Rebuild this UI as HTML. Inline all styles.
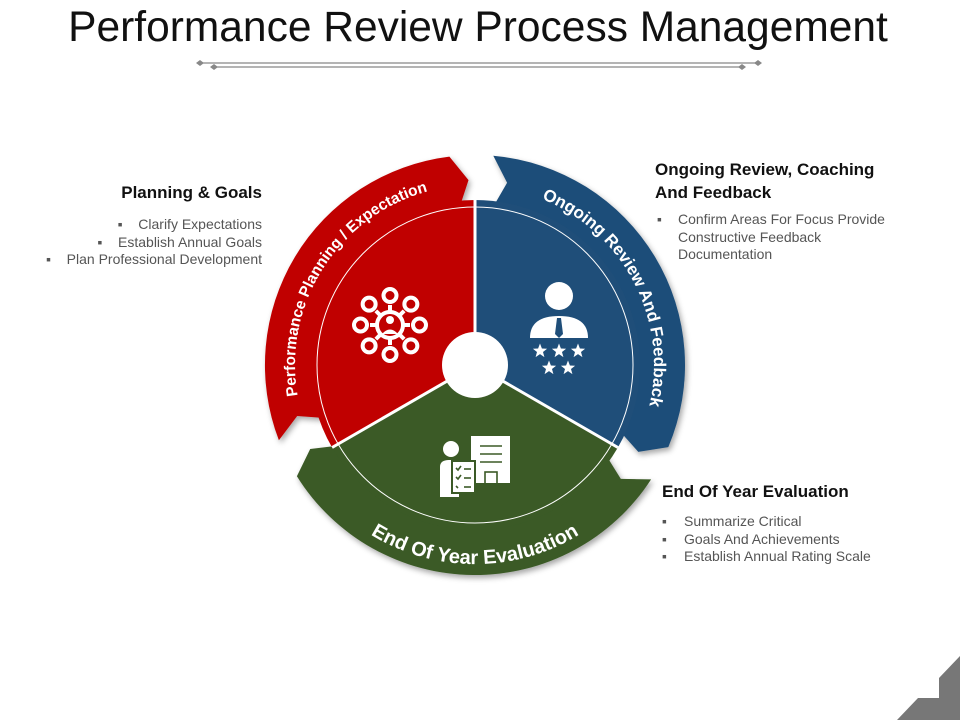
<!DOCTYPE html>
<html><head><meta charset="utf-8"><style>
body{margin:0;width:960px;height:720px;background:#fff;overflow:hidden;position:relative;font-family:"Liberation Sans",Arial,sans-serif}
.t{position:absolute;white-space:nowrap}
h1{position:absolute;margin:0;left:0;width:956px;text-align:center;top:4px;font-weight:normal;font-size:42.5px;color:#111}
.hd{font-weight:bold;font-size:17px;color:#111}
.b{font-size:14px;color:#555;line-height:17.5px}
</style></head><body>
<h1>Performance Review Process Management</h1>
<svg width="960" height="720" style="position:absolute;left:0;top:0">
<g stroke="#888" stroke-width="1.3" fill="#888">
<line x1="200" y1="63" x2="758" y2="63"/><line x1="214" y1="67" x2="742" y2="67"/>
<path d="M196 63l4-3 4 3-4 3z M210 67l4-3 4 3-4 3z M738 67l4-3 4 3-4 3z M754 63l4-3 4 3-4 3z" stroke="none"/>
</g>
<polygon points="897,720 918,698 939,698 939,678 960,656 960,720" fill="#777"/>
<defs><filter id="sh" x="-20%" y="-20%" width="140%" height="140%"><feDropShadow dx="2" dy="3" stdDeviation="3" flood-opacity="0.35"/></filter></defs>
<g id="bands" filter="url(#sh)"></g>
<g id="pie"></g>
<g id="txt" font-family="Liberation Sans,Arial,sans-serif" font-weight="bold" fill="#fff"></g>
<g fill="none" stroke="#fff" stroke-width="4">
<circle cx="390" cy="325" r="13"/>
<g id="net"></g>
</g>
<g fill="#fff">
<circle cx="390" cy="320" r="4"/><path d="M382 334q8-9 16 0z"/>
<circle cx="559" cy="296" r="14"/><path d="M530 338q0-22 29-22q29 0 29 22z"/>
<path d="M557 318h4l2 16-4 4-4-4z" fill="#1f4e79"/>
<g id="stars"></g>
<circle cx="451" cy="449" r="8"/><path d="M440 497v-30q0-7 9-7h10v37z"/>
<rect x="471" y="436" width="39" height="47"/>
<rect x="452" y="461" width="23" height="32" stroke="#3b5a26" stroke-width="2"/>
</g>
<g stroke="#3b5a26" stroke-width="1.6" fill="none">
<line x1="480" y1="446" x2="502" y2="446"/><line x1="480" y1="454" x2="502" y2="454"/><line x1="480" y1="462" x2="502" y2="462"/>
<rect x="485" y="472" width="12" height="12"/>
<path d="M456 468l2 2 3-4M456 477l2 2 3-4M456 486l2 2"/><line x1="464" y1="469" x2="471" y2="469"/><line x1="464" y1="478" x2="471" y2="478"/><line x1="464" y1="487" x2="471" y2="487"/>
</g>
</svg>
<div class="t hd" style="right:698px;top:183px">Planning &amp; Goals</div>
<div class="t b" style="right:698px;top:216px;text-align:right">▪&nbsp;&nbsp;&nbsp;&nbsp;Clarify Expectations<br>▪&nbsp;&nbsp;&nbsp;&nbsp;Establish Annual Goals<br>▪&nbsp;&nbsp;&nbsp;&nbsp;Plan Professional Development</div>
<div class="t hd" style="left:655px;top:158px;line-height:23px">Ongoing Review, Coaching<br>And Feedback</div>
<div class="t b" style="left:657px;top:211px">▪</div>
<div class="t b" style="left:678px;top:211px">Confirm Areas For Focus Provide<br>Constructive Feedback<br>Documentation</div>
<div class="t hd" style="left:662px;top:482px">End Of Year Evaluation</div>
<div class="t b" style="left:662px;top:513px">▪<br>▪<br>▪</div>
<div class="t b" style="left:684px;top:513px">Summarize Critical<br>Goals And Achievements<br>Establish Annual Rating Scale</div>
<script>
var cx=475,cy=365,NS="http://www.w3.org/2000/svg";
function P(a,r){var t=a*Math.PI/180;return [(cx+r*Math.sin(t)).toFixed(1),(cy-r*Math.cos(t)).toFixed(1)];}
function el(p,tag,at){var e=document.createElementNS(NS,tag);for(var k in at)e.setAttribute(k,at[k]);document.getElementById(p).appendChild(e);return e;}
function band(a0,a1,col){var ri=150,ro=210,rm=185,d=5;var s1=P(a0,ro),n=P(a0+d,rm),s2=P(a0,ri),e1=P(a1,ri),tp=P(a1+d,rm),e2=P(a1,ro);
var dd="M"+s1+" L"+n+" L"+s2+" A"+ri+" "+ri+" 0 0 1 "+e1+" L"+tp+" L"+e2+" A"+ro+" "+ro+" 0 0 0 "+s1+"Z";el("bands","path",{d:dd,fill:col});}
band(249,353,"#c00000");band(5,113,"#1f4e79");band(123,238,"#3b5a26");
function sec(a0,a1,col){var r=165,p0=P(a0,r),p1=P(a1,r);el("pie","path",{d:"M"+cx+" "+cy+" L"+p0+" A"+r+" "+r+" 0 0 1 "+p1+"Z",fill:col});}
sec(240,360,"#c00000");sec(0,120,"#1f4e79");sec(120,240,"#3b5a26");
[0,120,240].forEach(function(a){var p=P(a,165);el("pie","line",{x1:cx,y1:cy,x2:p[0],y2:p[1],stroke:"#fff","stroke-width":3});});
el("pie","circle",{cx:cx,cy:cy,r:158,fill:"none",stroke:"#fff","stroke-width":1});
el("pie","circle",{cx:cx,cy:cy,r:33,fill:"#fff"});
var d=document.createElementNS(NS,"defs");document.querySelector("svg").appendChild(d);
function arcPath(id,a0,a1,r,sw){var p0=P(a0,r),p1=P(a1,r);var pe=document.createElementNS(NS,"path");pe.setAttribute("id",id);pe.setAttribute("d","M"+p0+" A"+r+" "+r+" 0 0 "+sw+" "+p1);d.appendChild(pe);}
arcPath("pr",245,360,180,1);arcPath("pb",0,125,179,1);arcPath("pg",245,115,199,0);
function tp(id,s,fs,off){var t=el("txt","text",{"font-size":fs,"text-anchor":"middle"});var q=document.createElementNS(NS,"textPath");q.setAttribute("href","#"+id);q.setAttribute("startOffset",off);q.textContent=s;t.appendChild(q);}
tp("pr","Performance Planning / Expectation",15.5,"50%");tp("pb","Ongoing Review And Feedback",17,"50%");tp("pg","End Of Year Evaluation",20,"50%");
for(var i=0;i<8;i++){var a=i*45,s=Math.sin(a*Math.PI/180),c=Math.cos(a*Math.PI/180);
el("net","line",{x1:390+13*s,y1:325-13*c,x2:390+20*s,y2:325-20*c});el("net","circle",{cx:390+29.5*s,cy:325-29.5*c,r:6.5});}
function star(x,y,r){var s="";for(var i=0;i<10;i++){var rr=i%2?r*0.42:r,a=i*36*Math.PI/180;s+=(x+rr*Math.sin(a)).toFixed(1)+","+(y-rr*Math.cos(a)).toFixed(1)+" ";}el("stars","polygon",{points:s});}
[[540,351],[559,351],[578,351],[549,368],[568,368]].forEach(function(p){star(p[0],p[1],7.5);});
</script>
</body></html>
